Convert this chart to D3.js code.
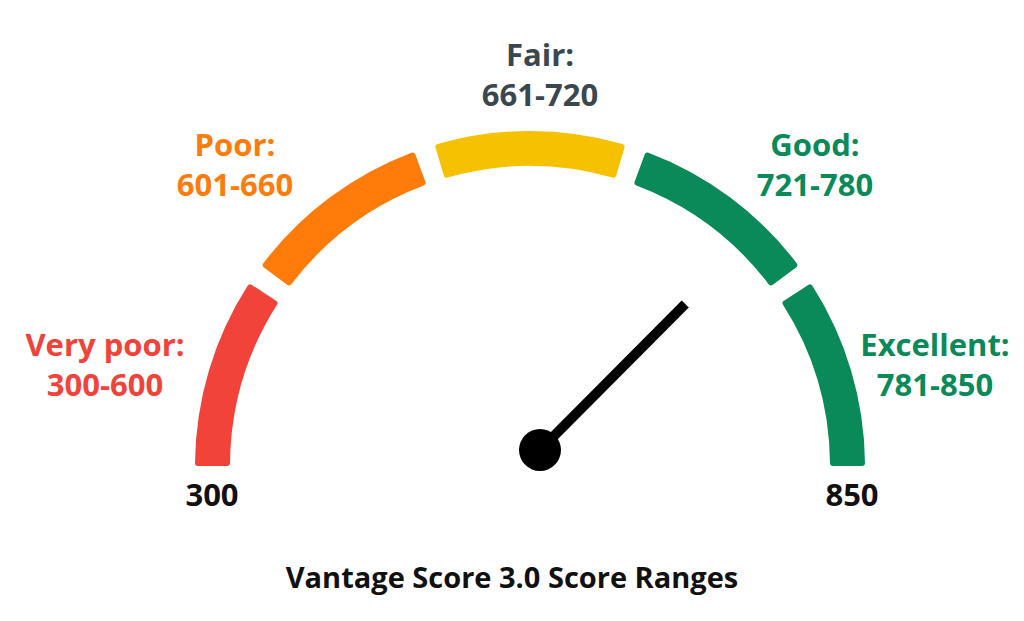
<!DOCTYPE html>
<html><head><meta charset="utf-8">
<script src="https://cdn.jsdelivr.net/npm/d3@7"></script>
<style>body{margin:0;background:#fff}svg{display:block}text{font-family:"Open Sans",sans-serif;font-weight:700}</style>
</head><body><svg width="1024" height="621"></svg>
<script>
const categories = ["Very poor:", "Poor:", "Fair:", "Good:", "Excellent:"];
const ranges = ["300-600", "601-660", "661-720", "721-780", "781-850"];
const colors = ["#f2433a", "#ff7b0a", "#f6c100", "#0a8a58", "#0a8a58"];
const textColors = ["#f2433a", "#ff7b0a", "#3b474e", "#0a8a58", "#0a8a58"];
const scaleMin = 300, scaleMax = 850;
const needleValue = 712;
const labelPos = [[105,356],[235,156],[540,66],[815,156],[935,356]];

const svg = d3.select("svg");
const cx = 530, cy = 466, rO = 335, rI = 300;
const g = svg.append("g").attr("transform", `translate(${cx},${cy})`);
const seg = d3.scaleBand().domain(categories).range([-Math.PI/2, Math.PI/2]).paddingInner(0.1).paddingOuter(0);
const arc = d3.arc().innerRadius(rI).outerRadius(rO).cornerRadius(3).padAngle(0);
g.selectAll("path.seg").data(categories).join("path")
  .attr("d", c => arc({startAngle: seg(c), endAngle: seg(c) + seg.bandwidth()}))
  .attr("fill", (c,i) => colors[i]);

categories.forEach((c,i) => {
  const t = svg.append("text").attr("x", labelPos[i][0]).attr("y", labelPos[i][1])
    .attr("text-anchor","middle").attr("fill", textColors[i]).attr("font-size", 31);
  t.append("tspan").attr("x", labelPos[i][0]).text(c);
  t.append("tspan").attr("x", labelPos[i][0]).attr("dy", 40).text(ranges[i]);
});

const ang = d3.scaleLinear().domain([scaleMin, scaleMax]).range([-Math.PI/2, Math.PI/2]);
svg.append("text").attr("x", 212).attr("y", 506).attr("text-anchor","middle").attr("font-size",31).attr("fill","#111").text(scaleMin);
svg.append("text").attr("x", 852).attr("y", 506).attr("text-anchor","middle").attr("font-size",31).attr("fill","#111").text(scaleMax);

const px = 540, py = 450, len = 206;
const a = ang(needleValue);
svg.append("line").attr("x1", px).attr("y1", py)
  .attr("x2", px + len*Math.sin(a)).attr("y2", py - len*Math.cos(a))
  .attr("stroke","#000").attr("stroke-width",10).attr("stroke-linecap","butt");
svg.append("circle").attr("cx", px).attr("cy", py).attr("r", 21).attr("fill","#000");

svg.append("text").attr("x", 512).attr("y", 588).attr("text-anchor","middle").attr("font-size",29).attr("fill","#111").text("Vantage Score 3.0 Score Ranges");
</script></body></html>
